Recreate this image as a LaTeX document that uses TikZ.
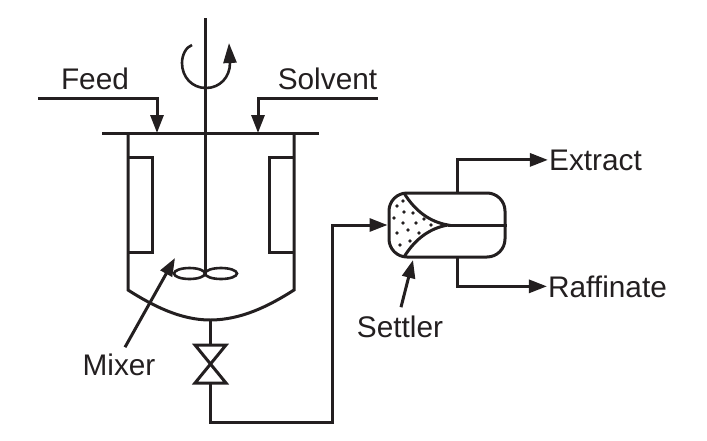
\documentclass[tikz,border=0pt]{standalone}
\usepackage{fontspec}
\setmainfont{Liberation Sans}
\usetikzlibrary{arrows.meta,calc}
\definecolor{ink}{HTML}{231F20}
\tikzset{
  pipe/.style={draw=ink,line width=3pt,line join=miter},
  thin pipe/.style={draw=ink,line width=2.6pt},
  flow/.style={pipe,-{Triangle[length=18pt,width=13pt]}},
  label text/.style={font=\fontsize{29.8}{34}\selectfont,text=ink,inner sep=0pt,anchor=base},
  grain/.style={circle,fill=ink,inner sep=0pt,minimum size=3.6pt}
}
\begin{document}
\begin{tikzpicture}[x=1pt,y=-1pt]
\useasboundingbox (0,0) rectangle (707,440);
% labels
\node[label text] (feed) at (95,89) {Feed};
\node[label text] (solvent) at (327.5,89) {Solvent};
\node[label text] (extract) at (595.5,170) {Extract};
\node[label text] (raffinate) at (607.5,297) {Raffinate};
\node[label text] (settlerlabel) at (400,337) {Settler};
\node[label text] (mixerlabel) at (119,375) {Mixer};
% key points
\coordinate (feedstart) at (38,98);
\coordinate (feedin) at (157,133);
\coordinate (solventstart) at (378,98);
\coordinate (solventin) at (258,133);
\coordinate (lidL) at (102,133);
\coordinate (lidR) at (319,133);
\coordinate (wallL) at (128,133);
\coordinate (wallR) at (294,133);
\coordinate (bowlL) at (128,290);
\coordinate (bowlR) at (294,290);
\coordinate (bowlB) at (210,320);
\coordinate (shaftT) at (205,18);
\coordinate (hub) at (205,273.5);
% vessel
\draw[pipe] (lidL) -- (lidR);
\draw[pipe] (wallL) -- (bowlL) .. controls (153,306) and (181,320) .. (bowlB) .. controls (241,320) and (269,306) .. (bowlR) -- (wallR);
\draw[pipe] (128,157) -- (152,157) -- (152,252) -- (128,252);
\draw[pipe] (294,157) -- (269,157) -- (269,252) -- (294,252);
\draw[pipe] (shaftT) -- (hub);
\draw[thin pipe] (189.5,273.5) ellipse (15.5 and 5.5);
\draw[thin pipe] (221,273.5) ellipse (16 and 5.5);
% rotation
\draw[thin pipe,-{Triangle[length=20pt,width=13pt]}] (192,45) .. controls (186,47) and (182,55) .. (182,63) .. controls (182,77) and (192,88) .. (206,88) .. controls (220,88) and (230,77) .. (230,63) -- (229,43);
% feeds
\draw[flow] (feedstart) -| (feedin);
\draw[flow] (solventstart) -| (solventin);
% valve
\coordinate (valveT) at (210,345);
\coordinate (valveB) at (210,383);
\draw[pipe] (bowlB) -- (valveT);
\draw[pipe,line join=miter] (valveT) -- (195,345) -- (226,383) -- (195,383) -- (226,345) -- cycle;
\coordinate (turn) at (332,422);
% settler
\node[draw=ink,line width=3pt,rounded corners=18pt,minimum width=116pt,minimum height=64pt,inner sep=0pt] (settler) at (447,225) {};
\coordinate (apex) at (448,225);
\draw[flow] (valveB) |- (turn) |- (settler.west);
\draw[pipe] (apex) -- (settler.east);
\draw[pipe] (404,193) .. controls (415,211) and (430,222) .. (apex) .. controls (430,228) and (415,239) .. (404,257);
\draw[flow] (457,193) |- ([xshift=-1pt]extract.west);
\draw[flow] (457,257) |- ([xshift=-1pt]raffinate.west);
\draw[flow] (mixerlabel.north) ++(6,-6) -- (175,258);
\draw[flow] (settlerlabel.north) ++(1,-8) -- (413,260);
% grains
\foreach \x/\y in {403/201,397/206,404/212,413/213,394/218,403/223,416/223,424/219,431/225,408/230,397/233,419/233,410/241,400/245}
  \node[grain] at (\x,\y) {};
\end{tikzpicture}
\end{document}
